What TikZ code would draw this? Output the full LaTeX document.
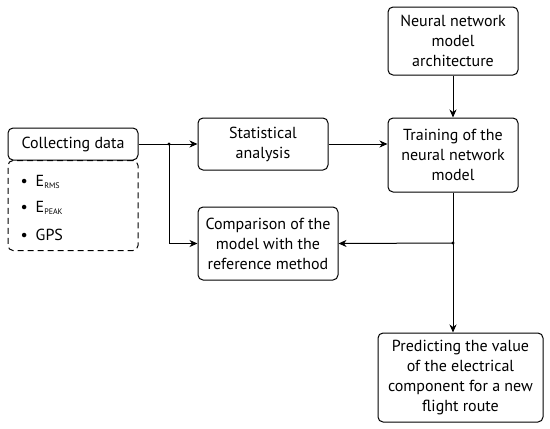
\documentclass[tikz,border=0pt]{standalone}
\usepackage{fontspec}
\setmainfont{PT Sans}
\usetikzlibrary{arrows.meta, positioning}

\begin{document}
\begin{tikzpicture}[x=1pt,y=-1pt,>={Stealth[length=8pt,width=7pt,inset=2.5pt]},line width=1pt,
		box/.style={draw, rounded corners=5pt, align=center, inner sep=2pt,
			font=\fontsize{16}{20}\selectfont},
		item/.style={anchor=west, inner sep=0pt, font=\fontsize{16}{18}\selectfont}]
		\useasboundingbox (0,0) rectangle (550,429);
		% inputs
		\node[draw, dash pattern=on 6pt off 4pt, rounded corners=5pt, minimum width=130pt,
			minimum height=90pt, anchor=north] (list) at (73,160) {};
		\node[box, minimum width=130pt, minimum height=32pt] (collect) at (73,144) {Collecting data};
		\node[item] (erms) at (20,182) {\textbullet\enspace E\textsubscript{\footnotesize RMS}};
		\node[item] (epeak) at (20,208) {\textbullet\enspace E\textsubscript{\footnotesize PEAK}};
		\node[item] (gps) at (20,235) {\textbullet\enspace GPS};
		% processing
		\node[box, minimum width=130pt, minimum height=52pt] (stat) at (263,144) {Statistical\\analysis};
		\node[box, minimum width=140pt, minimum height=73pt] (comp) at (268,243.5) {Comparison of the\\model with the\\reference method};
		\node[box, minimum width=130pt, minimum height=68pt] (nn) at (453,41) {Neural network\\model\\architecture};
		\node[box, minimum width=130pt, minimum height=74pt] (train) at (453,155) {Training of the\\neural network\\model};
		\node[box, minimum width=165pt, minimum height=89pt] (pred) at (460.5,377.5) {Predicting the value\\of the electrical\\component for a new\\flight route};
		% junctions
		\coordinate (j1) at (169,144);
		\coordinate (j2) at (453,243);
		\fill (j1) circle (1.6pt);
		\fill (j2) circle (1.6pt);
		\draw (collect.east) -- (j1);
		\draw[->] (j1) -- (stat.west);
		\draw[->] (j1) |- (comp.west);
		\draw[->] (stat.east) -- (stat.east -| train.west);
		\draw[->] (nn) -- (train);
		\draw[->] (train.south) -- (train.south |- pred.north);
		\draw[->] (j2) -- (comp.east);
	\end{tikzpicture}
\end{document}
